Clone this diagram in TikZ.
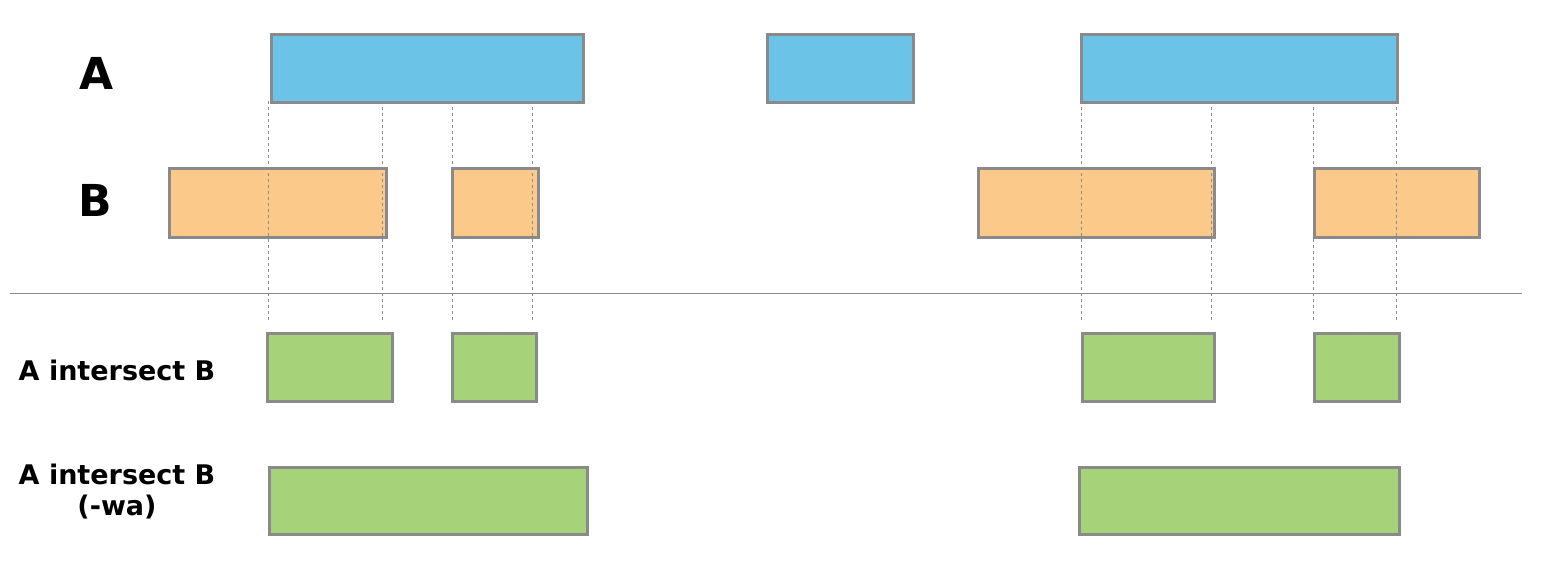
\documentclass[tikz,border=0pt]{standalone}
\usepackage{fontspec}
\setmainfont{DejaVu Sans}
\definecolor{ablue}{HTML}{6BC3E8}
\definecolor{borange}{HTML}{FBC98A}
\definecolor{cgreen}{HTML}{A6D27A}
\definecolor{edge}{HTML}{8A8A8A}
\begin{document}
\begin{tikzpicture}[x=1pt,y=-1pt,
  bar/.style={draw=edge,line width=2.5pt,inner sep=0pt,anchor=north west},
  guide/.style={draw=edge,dashed,line width=0.6pt},
  lbl/.style={font=\bfseries\fontsize{27}{31}\selectfont,align=center}]
\useasboundingbox (0,0) rectangle (1554,562);
\newcommand{\barnode}[6]{\node[bar,fill=#2,minimum width=#5-#3,minimum height=#6-#4] (#1) at (#3,#4) {};}
\barnode{a1}{ablue}{270}{33}{582}{101}
\barnode{a2}{ablue}{766}{33}{912}{101}
\barnode{a3}{ablue}{1080}{33}{1396}{101}
\barnode{b1}{borange}{168}{167}{385}{236}
\barnode{b2}{borange}{451}{167}{537}{236}
\barnode{b3}{borange}{977}{167}{1213}{236}
\barnode{b4}{borange}{1313}{167}{1478}{236}
\barnode{c1}{cgreen}{266}{332}{391}{400}
\barnode{c2}{cgreen}{451}{332}{535}{400}
\barnode{c3}{cgreen}{1081}{332}{1213}{400}
\barnode{c4}{cgreen}{1313}{332}{1398}{400}
\barnode{d1}{cgreen}{268}{466}{586}{533}
\barnode{d2}{cgreen}{1078}{466}{1398}{533}
\coordinate (l0) at (10,293); \coordinate (l1) at (1522,293);
\draw[edge,line width=1pt] (l0) -- (l1);
\foreach \x in {268,382,452,532,1081,1211,1313,1396}{
  \coordinate (t\x) at (\x,101); \coordinate (u\x) at (\x,322);
  \draw[guide] (t\x) -- (u\x);}
\node[lbl,font=\bfseries\fontsize{44}{48}\selectfont] (la) at (97,73) {A};
\node[lbl,font=\bfseries\fontsize{44}{48}\selectfont] (lb) at (95,200) {B};
\node[lbl] (lc) at (117,370) {A intersect B};
\node[lbl] (ld) at (117,492) {A intersect B\\(-wa)};
\end{tikzpicture}
\end{document}
